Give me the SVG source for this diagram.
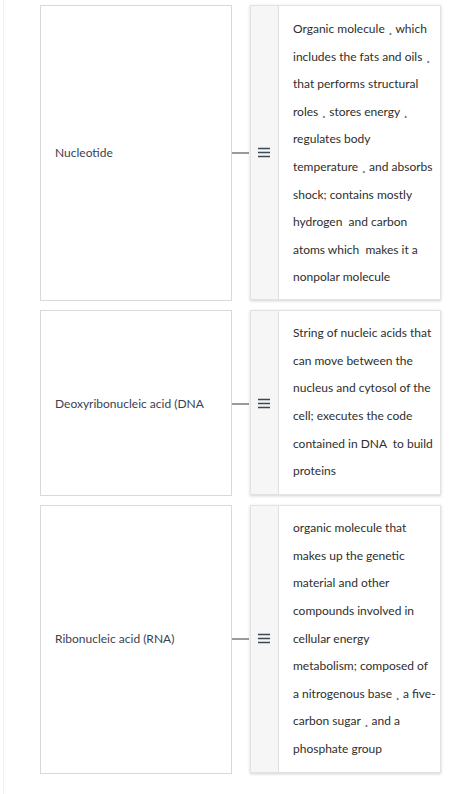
<svg xmlns="http://www.w3.org/2000/svg" width="459" height="794" viewBox="0 0 459 794">
<defs>
<filter id="sh" x="-10%" y="-10%" width="120%" height="120%">
<feDropShadow dx="0" dy="1" stdDeviation="1.5" flood-color="#000" flood-opacity="0.18"/>
</filter>
<style>
.lbox{fill:#fff;stroke:#d9d9d9;stroke-width:1}
.card{fill:#fff;stroke:#e2e2e2;stroke-width:1;filter:url(#sh)}
.strip{fill:#f6f6f6}
.sep{stroke:#e0e0e0;stroke-width:1}
.conn{stroke:#9a9a9a;stroke-width:2}
.ham{stroke:#3d4a55;stroke-width:1.5}
.lbl{font-family:Lato,"Liberation Sans",sans-serif;font-size:12px;fill:#3c4150}
.txt{font-family:Lato,"Liberation Sans",sans-serif;font-size:12px;fill:#2e2e2e}
</style>
</defs>
<rect width="459" height="794" fill="#fff"/>
<line x1="3.5" y1="0" x2="3.5" y2="794" stroke="#f0f0f0" stroke-width="1"/>

<g id="connectors">
<line class="conn" x1="231" y1="153" x2="249" y2="153"/>
<line class="conn" x1="231" y1="404" x2="249" y2="404"/>
<line class="conn" x1="231" y1="639" x2="249" y2="639"/>
</g>

<g id="node-nucleotide">
<rect class="lbox" x="40.5" y="5.5" width="191" height="295"/>
<text class="lbl" x="55" y="157">Nucleotide</text>
</g>
<g id="node-dna">
<rect class="lbox" x="40.5" y="310.5" width="191" height="185"/>
<text class="lbl" x="55" y="408">Deoxyribonucleic acid (DNA</text>
</g>
<g id="node-rna">
<rect class="lbox" x="40.5" y="505.5" width="191" height="268"/>
<text class="lbl" x="55" y="643">Ribonucleic acid (RNA)</text>
</g>

<g id="card-1">
<rect class="card" x="250.5" y="5.5" width="190" height="294"/>
<rect class="strip" x="251" y="6" width="27" height="293"/>
<line class="sep" x1="278.5" y1="6" x2="278.5" y2="299"/>
<path class="ham" d="M258 148.5h12M258 152.5h12M258 156.5h12"/>
<text class="txt" xml:space="preserve"><tspan x="293" y="33">Organic molecule ¸ which</tspan><tspan x="293" y="61">includes the fats and oils ¸</tspan><tspan x="293" y="88">that performs structural</tspan><tspan x="293" y="116">roles ¸ stores energy ¸</tspan><tspan x="293" y="143">regulates body</tspan><tspan x="293" y="171">temperature ¸ and absorbs</tspan><tspan x="293" y="199">shock; contains mostly</tspan><tspan x="293" y="226">hydrogen  and carbon</tspan><tspan x="293" y="254">atoms which  makes it a</tspan><tspan x="293" y="281">nonpolar molecule</tspan></text>
</g>

<g id="card-2">
<rect class="card" x="250.5" y="310.5" width="190" height="184"/>
<rect class="strip" x="251" y="311" width="27" height="183"/>
<line class="sep" x1="278.5" y1="311" x2="278.5" y2="494"/>
<path class="ham" d="M258 399.5h12M258 403.5h12M258 407.5h12"/>
<text class="txt" xml:space="preserve"><tspan x="293" y="337">String of nucleic acids that</tspan><tspan x="293" y="365">can move between the</tspan><tspan x="293" y="392">nucleus and cytosol of the</tspan><tspan x="293" y="420">cell; executes the code</tspan><tspan x="293" y="448">contained in DNA  to build</tspan><tspan x="293" y="475">proteins</tspan></text>
</g>

<g id="card-3">
<rect class="card" x="250.5" y="505.5" width="190" height="267"/>
<rect class="strip" x="251" y="506" width="27" height="266"/>
<line class="sep" x1="278.5" y1="506" x2="278.5" y2="772"/>
<path class="ham" d="M258 634.5h12M258 638.5h12M258 642.5h12"/>
<text class="txt" xml:space="preserve"><tspan x="293" y="532">organic molecule that</tspan><tspan x="293" y="560">makes up the genetic</tspan><tspan x="293" y="587">material and other</tspan><tspan x="293" y="615">compounds involved in</tspan><tspan x="293" y="643">cellular energy</tspan><tspan x="293" y="670">metabolism; composed of</tspan><tspan x="293" y="698">a nitrogenous base ¸ a five-</tspan><tspan x="293" y="725">carbon sugar ¸ and a</tspan><tspan x="293" y="753">phosphate group</tspan></text>
</g>
</svg>
